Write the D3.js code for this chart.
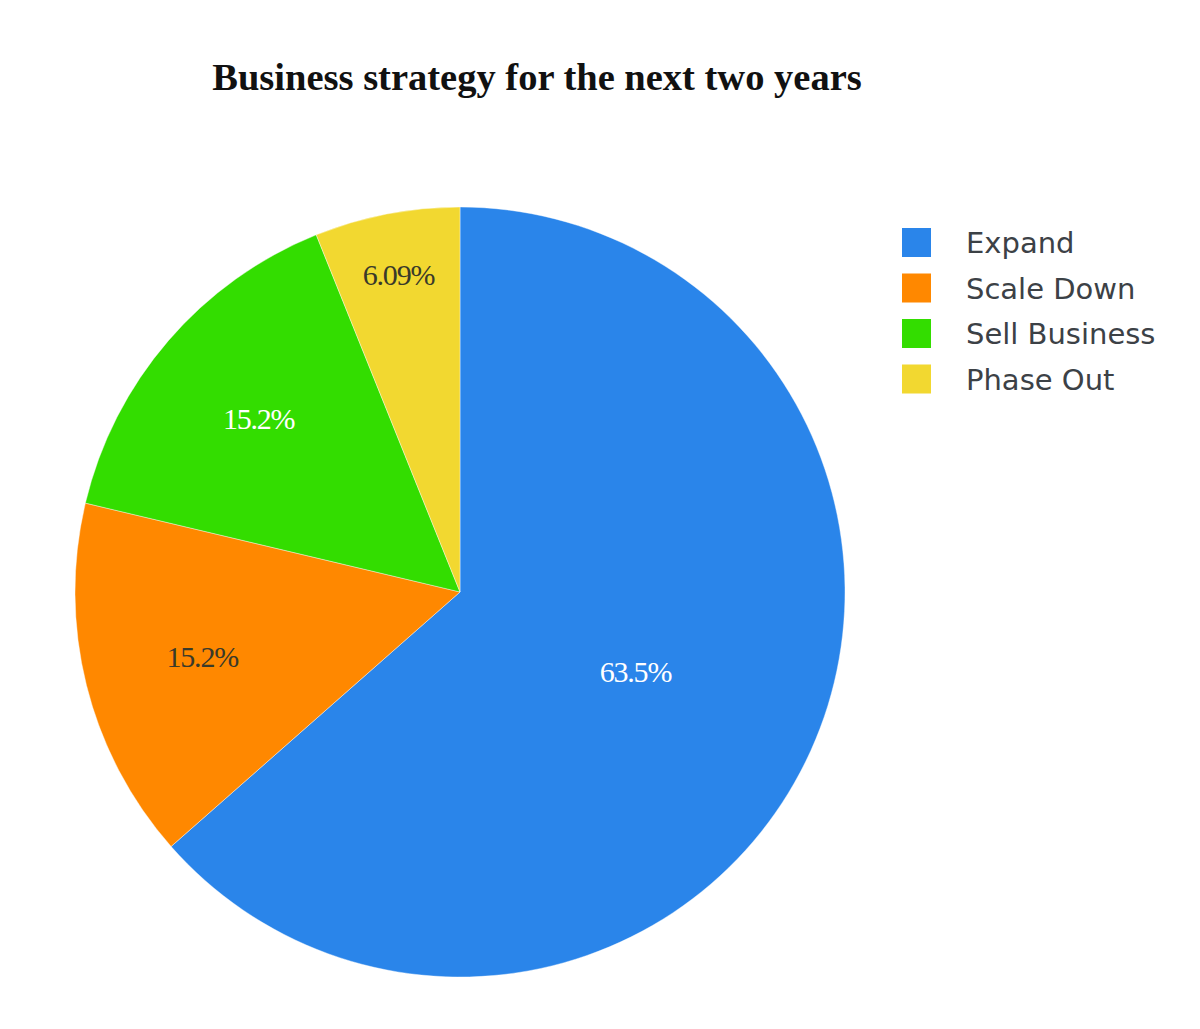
<!DOCTYPE html>
<html>
<head>
<meta charset="utf-8">
<script src="https://cdn.jsdelivr.net/npm/d3@7"></script>
<style>
  body { margin: 0; background: #fff; }
</style>
</head>
<body>
<div id="chart"></div>
<script>
// chart data
const labels = ["Expand", "Scale Down", "Sell Business", "Phase Out"];
const values = [63.5, 15.2, 15.2, 6.09];
const valueText = ["63.5%", "15.2%", "15.2%", "6.09%"];
const colors = ["#2a85ea", "#ff8800", "#33dd00", "#f2d830"];
const textColors = ["#ffffff", "#3a3a2a", "#ffffff", "#3a3a2a"];

function drawPie() {
    const width = 1200, height = 1029;
    const cx = 460, cy = 592, radius = 385;

    const svg = d3.select("#chart")
        .append("svg")
        .attr("width", width)
        .attr("height", height);

    // title
    svg.append("text")
        .attr("x", 537)
        .attr("y", 90)
        .attr("text-anchor", "middle")
        .style("font-family", "'Liberation Serif', 'Times New Roman', serif")
        .style("font-weight", "bold")
        .style("font-size", "38.5px")
        .attr("fill", "#111")
        .text("Business strategy for the next two years");

    const pie = d3.pie().sort(null).value(d => d).startAngle(0).endAngle(2 * Math.PI);
    const arcs = pie(values);
    const arc = d3.arc().innerRadius(0).outerRadius(radius);

    const g = svg.append("g").attr("transform", `translate(${cx}, ${cy})`);

    g.selectAll("path.slice")
        .data(arcs)
        .enter()
        .append("path")
        .attr("class", "slice")
        .attr("d", arc)
        .attr("fill", (d, i) => colors[i])
        .attr("stroke", "#fff")
        .attr("stroke-width", 0.4);

    // small slices get their label pushed outward, like plotly does
    function labelRadius(d) {
        const a = d.endAngle - d.startAngle;
        if (a > Math.PI) return radius * 0.5;
        if (a > 0.6) return radius * 0.69;
        return radius * 0.84;
    }

    g.selectAll("text.pct")
        .data(arcs)
        .enter()
        .append("text")
        .attr("class", "pct")
        .attr("transform", d => {
            const r = labelRadius(d);
            const la = d3.arc().innerRadius(r).outerRadius(r);
            const c = la.centroid(d);
            return `translate(${c[0]}, ${c[1]})`;
        })
        .attr("dy", "0.35em")
        .attr("text-anchor", "middle")
        .style("font-family", "'Liberation Serif', 'Times New Roman', serif")
        .style("font-size", "30px")
        .style("letter-spacing", "-1.2px")
        .attr("fill", (d, i) => textColors[i])
        .text((d, i) => valueText[i]);

    // legend
    const legend = svg.append("g").attr("transform", "translate(902, 228)");
    const rows = legend.selectAll("g.item")
        .data(labels)
        .enter()
        .append("g")
        .attr("class", "item")
        .attr("transform", (d, i) => `translate(0, ${i * 45.5})`);

    rows.append("rect")
        .attr("width", 29)
        .attr("height", 29)
        .attr("fill", (d, i) => colors[i]);

    rows.append("text")
        .attr("x", 64)
        .attr("y", 15)
        .attr("dy", "0.35em")
        .style("font-family", "'DejaVu Sans', Verdana, sans-serif")
        .style("font-size", "29px")
        .attr("fill", "#3c4146")
        .text(d => d);
}

drawPie();
</script>
</body>
</html>
